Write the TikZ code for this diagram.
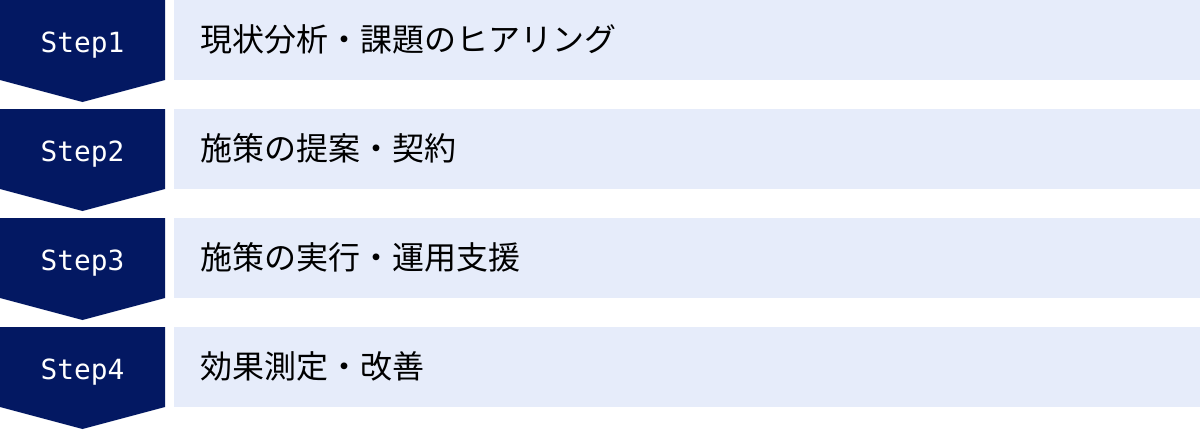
\documentclass[tikz,border=0pt]{standalone}
\usepackage{fontspec}
\newfontfamily\jpfont{Noto Sans CJK JP}
\newfontfamily\stepfont{DejaVu Sans Mono}
\definecolor{navy}{HTML}{031862}
\definecolor{pale}{HTML}{E6ECFA}

\begin{document}
\begin{tikzpicture}[x=0.5pt,y=-0.5pt,
  steplabel/.style={anchor=base,text=white,font=\stepfont\fontsize{13.9pt}{16pt}\selectfont,inner sep=0pt},
  tasklabel/.style={anchor=west,text=black,font=\jpfont\fontsize{16pt}{18pt}\selectfont,inner sep=0pt}]
\useasboundingbox (0,0) rectangle (1200,429);
% step 1
\fill[navy] (0,0) -- (165,0) -- (165,80) -- (82.5,102) -- (0,80) -- cycle;
\node[steplabel] (s1) at (82.5,52.5) {Step1};
\fill[pale] (174,0) rectangle (1200,80);
\node[tasklabel] (t1) at (200,39) {現状分析・課題のヒアリング};
% step 2
\fill[navy] (0,109) -- (165,109) -- (165,189) -- (82.5,211) -- (0,189) -- cycle;
\node[steplabel] (s2) at (82.5,161.5) {Step2};
\fill[pale] (174,109) rectangle (1200,189);
\node[tasklabel] (t2) at (200,148) {施策の提案・契約};
% step 3
\fill[navy] (0,218) -- (165,218) -- (165,298) -- (82.5,320) -- (0,298) -- cycle;
\node[steplabel] (s3) at (82.5,270.5) {Step3};
\fill[pale] (174,218) rectangle (1200,298);
\node[tasklabel] (t3) at (200,257) {施策の実行・運用支援};
% step 4
\fill[navy] (0,327) -- (165,327) -- (165,407) -- (82.5,429) -- (0,407) -- cycle;
\node[steplabel] (s4) at (82.5,379.5) {Step4};
\fill[pale] (174,327) rectangle (1200,407);
\node[tasklabel] (t4) at (200,366) {効果測定・改善};
\end{tikzpicture}
\end{document}
